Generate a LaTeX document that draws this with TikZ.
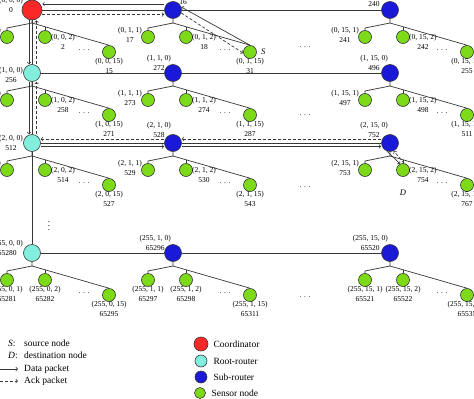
\documentclass[tikz,border=0pt]{standalone}
\usepackage{fontspec}
\setmainfont{Liberation Serif}
\usetikzlibrary{positioning}
\definecolor{coordred}{RGB}{250,40,40}
\definecolor{rootcyan}{RGB}{130,238,222}
\definecolor{subblue}{RGB}{25,25,215}
\definecolor{sensgreen}{RGB}{125,218,25}
\definecolor{edgegray}{RGB}{55,55,55}
\newcommand{\drawcoord}{\node[draw=edgegray, line width=0.6pt, fill=coordred, circle, minimum size=20pt, inner sep=0]}
\newcommand{\drawroot}{\node[draw=edgegray, line width=0.6pt, fill=rootcyan, circle, minimum size=17pt, inner sep=0]}
\newcommand{\drawsub}{\node[draw=edgegray, line width=0.6pt, fill=subblue, circle, minimum size=17pt, inner sep=0]}
\newcommand{\drawsensor}{\node[draw=edgegray, line width=0.6pt, fill=sensgreen, circle, minimum size=13pt, inner sep=0]}
\newcommand{\spdots}{.\hspace{2.6pt}.\hspace{2.6pt}.}
% leaves 1, 2 and 15 below a router: #1 router, #2 row, #3 column, #4 #5 label styles
\newcommand{\drawleaves}[5]{%
  \drawsensor (#1s1) at ([shift={(-25,27)}]#1.center) {};
  \drawsensor (#1s2) at ([shift={(13,27)}]#1.center) {};
  \drawsensor (#1s15) at ([shift={(77,42)}]#1.center) {};
  \draw[tree] (#1) -- ([shift={(0,13)}]#1.center) -- ([shift={(-25,18)}]#1.center) -- (#1s1);
  \draw[tree] ([shift={(0,13)}]#1.center) -- (#1s15.north);
  \draw[tree] ([shift={(13,16.8)}]#1.center) -- (#1s2);
  \node[#4] at (#1s1) {(#2, #3, 1)\\\the\numexpr#2*256+#3*16+1\relax};
  \node[#5] at (#1s2) {(#2, #3, 2)\\\the\numexpr#2*256+#3*16+2\relax};
  \node[lblB] at (#1s15) {(#2, #3, 15)\\\the\numexpr#2*256+#3*16+15\relax};
  \node[lbl] at ([shift={(52,40)}]#1.center) {\spdots};
}
\tikzset{
  tree/.style={draw=edgegray, line width=0.7pt},
  data/.style={draw=edgegray, line width=0.7pt, ->},
  ack/.style={draw=edgegray, line width=0.7pt, dash pattern=on 3pt off 2pt, ->},
  lbl/.style={font=\fontsize{7.5}{9.5}\selectfont, align=center, inner sep=0pt},
  lblL/.style={lbl, anchor=east, xshift=-6pt, yshift=2pt},
  lblR/.style={lbl, anchor=west, xshift=6pt, yshift=-5pt},
  lblB/.style={lbl, anchor=north, yshift=-6.5pt},
  lblrt/.style={lbl, anchor=east},
  legtxt/.style={font=\fontsize{9.5}{11}\selectfont, inner sep=0pt}
}
\begin{document}
\begin{tikzpicture}[x=1pt, y=-1pt]
\useasboundingbox (0,0) rectangle (474,399);
\clip (0,0) rectangle (474,399);

\drawcoord (r0c0) at (32,10) {};
\drawsub (r0c1) at (173,10) {};
\drawsub (r0c15) at (390,10) {};
\drawroot (r1c0) at (32,73) {};
\drawsub (r1c1) at (173,73) {};
\drawsub (r1c15) at (390,73) {};
\drawroot (r2c0) at (32,143) {};
\drawsub (r2c1) at (173,143) {};
\drawsub (r2c15) at (390,143) {};
\drawroot (r255c0) at (32,253) {};
\drawsub (r255c1) at (173,253) {};
\drawsub (r255c15) at (390,253) {};

\node[lblrt] at ([shift={(-9,-5)}]r0c0.center) {(0, 0, 0)\\0};
\node[lbl, anchor=south] at ([shift={(10,-5.5)}]r0c1.center) {(0, 1, 0)\\16};
\node[lblrt] at ([shift={(-2,-11)}]r0c15.center) {(0, 15, 0)\\240};
\node[lblrt] at ([shift={(-9,2)}]r1c0.center) {(1, 0, 0)\\256};
\node[lblrt] at ([shift={(-2,-10)}]r1c1.center) {(1, 1, 0)\\272};
\node[lblrt] at ([shift={(-2,-10)}]r1c15.center) {(1, 15, 0)\\496};
\node[lblrt] at ([shift={(-9,0)}]r2c0.center) {(2, 0, 0)\\512};
\node[lblrt] at ([shift={(-2,-13)}]r2c1.center) {(2, 1, 0)\\528};
\node[lblrt] at ([shift={(-2,-13)}]r2c15.center) {(2, 15, 0)\\752};
\node[lblrt] at ([shift={(-9,-5)}]r255c0.center) {(255, 0, 0)\\65280};
\node[lblrt] at ([shift={(-2,-10)}]r255c1.center) {(255, 1, 0)\\65296};
\node[lblrt] at ([shift={(-2,-10)}]r255c15.center) {(255, 15, 0)\\65520};

\draw[tree] (r0c0) -- (r1c0) -- (r2c0) -- (r255c0);
\draw[tree] (r0c0) -- (r0c1) -- (r0c15);
\draw[tree] (r1c0) -- (r1c1) -- (r1c15);
\draw[tree] (r2c0) -- (r2c1) -- (r2c15);
\draw[tree] (r255c0) -- (r255c1) -- (r255c15);

\drawleaves{r0c0}{0}{0}{lblL}{lblR}
\drawleaves{r0c1}{0}{1}{lblL}{lblR}
\drawleaves{r0c15}{0}{15}{lblL}{lblR}
\drawleaves{r1c0}{1}{0}{lblL}{lblR}
\drawleaves{r1c1}{1}{1}{lblL}{lblR}
\drawleaves{r1c15}{1}{15}{lblL}{lblR}
\drawleaves{r2c0}{2}{0}{lblL}{lblR}
\drawleaves{r2c1}{2}{1}{lblL}{lblR}
\drawleaves{r2c15}{2}{15}{lblL}{lblR}
\drawleaves{r255c0}{255}{0}{lblB}{lblB}
\drawleaves{r255c1}{255}{1}{lblB}{lblB}
\drawleaves{r255c15}{255}{15}{lblB}{lblB}

\node[lbl] (gap0) at (305,47) {\spdots};
\node[lbl] (gap1) at (305,115) {\spdots};
\node[lbl] (gap2) at (305,187) {\spdots};
\node[lbl] (gap255) at (305,297) {\spdots};
\node[font=\fontsize{9}{9}\selectfont, inner sep=0] (vdots) at (49,223) {$\vdots$};

\node[font=\fontsize{8.5}{10}\selectfont\itshape, inner sep=0, right=4pt of r0c1s15] (srcS) {S};
\node[font=\fontsize{8.5}{10}\selectfont\itshape, inner sep=0, below=13pt of r2c15s2] (dstD) {D};

% data packet
\draw[data] (r0c1s15.north) -- (r0c1.20);
\draw[data, transform canvas={yshift=6pt}] (r0c1) -- (r0c0);
\draw[data, transform canvas={xshift=-3pt}] (r0c0) -- (r1c0);
\draw[data, transform canvas={xshift=-3pt}] (r1c0) -- (r2c0);
\draw[data, transform canvas={yshift=-3.5pt}] (r2c0) -- (r2c1);
\draw[data, transform canvas={yshift=-3.5pt}] (r2c1) -- (r2c15);
\draw[data] (r2c15.250) -- (r2c15s2.115);
% ack packet
\draw[ack] (r2c15s2.80) -- (r2c15.295);
\draw[ack, transform canvas={yshift=4pt}] (r2c15) -- (r2c1);
\draw[ack, transform canvas={yshift=4pt}] (r2c1) -- (r2c0);
\draw[ack, transform canvas={xshift=4.5pt}] (r2c0) -- (r1c0);
\draw[ack, transform canvas={xshift=4.5pt}] (r1c0) -- (r0c0);
\draw[ack, transform canvas={yshift=-4.5pt}] (r0c0) -- (r0c1);
\draw[ack] (r0c1.-20) -- (r0c1s15.190);

% legend
\node[legtxt, anchor=west] (legS) at (8,343) {\makebox[16pt][l]{\textit{S}:}source node};
\node[legtxt, anchor=west] (legD) at (8,355) {\makebox[16pt][l]{\textit{D}:}destination node};
\coordinate (legdataL) at (0,369);
\coordinate (legdataR) at (18,369);
\draw[data] (legdataL) -- (legdataR);
\node[legtxt, anchor=west] (legdata) at (24,369) {Data packet};
\coordinate (legackL) at (0,381);
\coordinate (legackR) at (18,381);
\draw[ack] (legackL) -- (legackR);
\node[legtxt, anchor=west] (legack) at (24,381) {Ack packet};
\drawcoord (legcoord) [minimum size=14pt] at (201,344) {};
\node[legtxt, right=5pt of legcoord] {Coordinator};
\drawroot (legroot) [minimum size=12pt] at (201,361) {};
\node[legtxt, right=6pt of legroot] {Root-router};
\drawsub (legsub) [minimum size=12pt] at (201,377) {};
\node[legtxt, right=6pt of legsub] {Sub-router};
\drawsensor (legsens) [minimum size=11pt] at (200,393) {};
\node[legtxt, right=5.5pt of legsens] {Sensor node};
\end{tikzpicture}
\end{document}
